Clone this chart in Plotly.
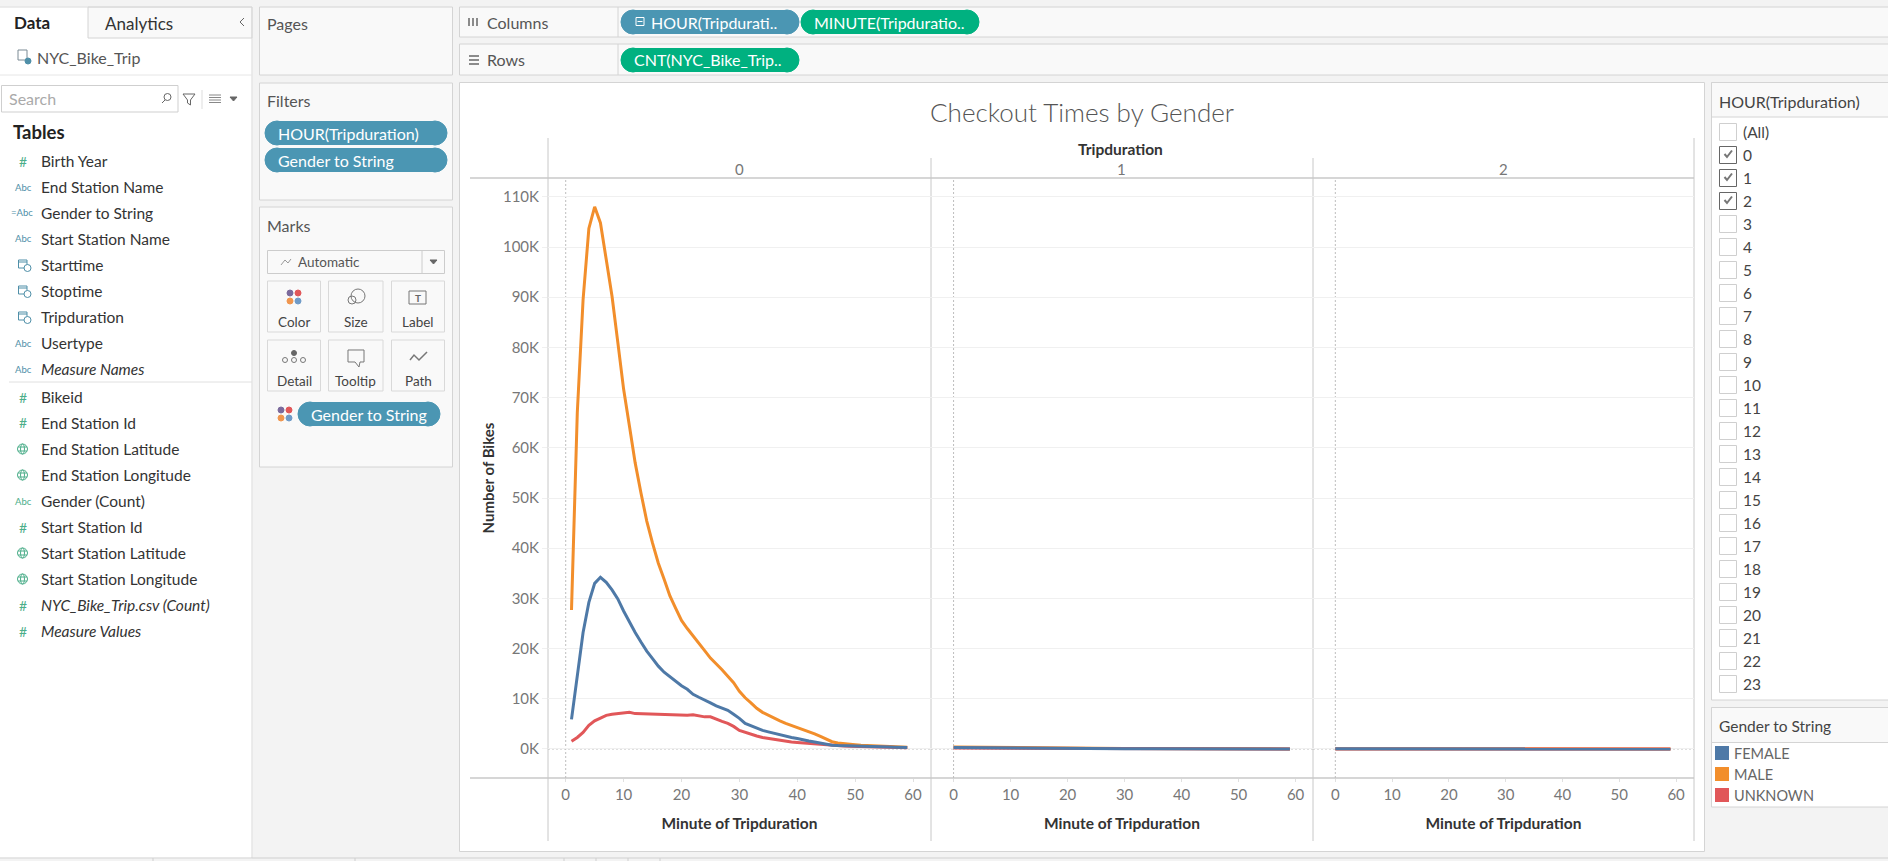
"""Checkout Times by Gender: Tableau worksheet view redrawn with plotly."""

import plotly.graph_objects as go

W, H = 1888, 861
FONT = "Lato"

# values
MINUTES_0 = list(range(1, 60))
FEMALE_0 = [5900, 14500, 23200, 29200, 33000, 34200, 33200, 31700, 29900, 27500,
            25200, 23200, 21300, 19500, 18000, 16500, 15300, 14400, 13500, 12600,
            11900, 10900, 10300, 9800, 9200, 8600, 8100, 7700, 6900, 6100,
            5100, 4600, 4100, 3700, 3400, 3100, 2800, 2500, 2300, 2100,
            1800, 1600, 1400, 1150, 900, 750, 680, 630, 590, 560,
            520, 490, 460, 430, 400, 380, 360, 340, 320]
MALE_0 = [27700, 67000, 89500, 103700, 108000, 104800, 97500, 90200, 81000, 71700,
          64400, 57000, 51000, 45400, 41000, 37000, 33800, 30500, 28000, 25600,
          24000, 22600, 21000, 19600, 18100, 17000, 15800, 14500, 13200, 11500,
          10200, 9200, 8100, 7300, 6700, 6200, 5600, 5100, 4700, 4300,
          3800, 3500, 3000, 2500, 1900, 1450, 1200, 1050, 950, 850,
          750, 680, 620, 570, 520, 480, 440, 400, 360]
UNKNOWN_0 = [1550, 2300, 3300, 4700, 5600, 6100, 6700, 6900, 7050, 7200,
             7300, 7050, 7000, 6900, 6950, 6850, 6900, 6850, 6800, 6750,
             6700, 6800, 6550, 6400, 6400, 5900, 5500, 5100, 4500, 3700,
             3300, 2900, 2600, 2300, 2100, 1900, 1700, 1550, 1400, 1300,
             1200, 1100, 1000, 880, 800, 700, 620, 580, 540, 500,
             470, 440, 410, 380, 350, 330, 310, 290, 270]

MINUTES_12 = [0, 5, 10, 15, 20, 25, 30, 35, 40, 45, 50, 55, 59]
FEMALE_1 = [300, 240, 190, 150, 120, 90, 70, 55, 45, 35, 25, 20, 15]
MALE_1 = [420, 340, 270, 210, 170, 130, 100, 80, 60, 45, 35, 25, 20]
UNKNOWN_1 = [200, 170, 140, 110, 90, 70, 55, 45, 35, 25, 20, 15, 10]
FEMALE_2 = [30, 25, 20, 18, 15, 12, 10, 9, 8, 7, 6, 5, 5]
MALE_2 = [60, 50, 40, 32, 26, 22, 18, 15, 12, 10, 9, 8, 7]
UNKNOWN_2 = [20, 18, 16, 14, 12, 10, 9, 8, 7, 6, 5, 4, 4]

HOUR_LABELS = ["0", "1", "2"]
GENDERS = ["FEMALE", "MALE", "UNKNOWN"]
GENDER_COLORS = {"FEMALE": "#4e79a7", "MALE": "#f28e2b", "UNKNOWN": "#e15759"}

Y_TICKS = [0, 10000, 20000, 30000, 40000, 50000, 60000, 70000, 80000, 90000, 100000, 110000]
Y_LABELS = ["0K", "10K", "20K", "30K", "40K", "50K", "60K", "70K", "80K", "90K", "100K", "110K"]
X_TICKS = [0, 10, 20, 30, 40, 50, 60]

FIELDS_TOP = [("#", "Birth Year"), ("Abc", "End Station Name"), ("=Abc", "Gender to String"),
              ("Abc", "Start Station Name"), ("cal", "Starttime"), ("cal", "Stoptime"),
              ("cal", "Tripduration"), ("Abc", "Usertype"), ("Abc", "<i>Measure Names</i>")]
FIELDS_BOTTOM = [("#", "Bikeid"), ("#", "End Station Id"), ("globe", "End Station Latitude"),
                 ("globe", "End Station Longitude"), ("gAbc", "Gender (Count)"),
                 ("#", "Start Station Id"), ("globe", "Start Station Latitude"),
                 ("globe", "Start Station Longitude"),
                 ("#", "<i>NYC_Bike_Trip.csv (Count)</i>"), ("#", "<i>Measure Values</i>")]
FILTER_ROWS = ["(All)"] + [str(h) for h in range(24)]
FILTER_CHECKED = ["0", "1", "2"]
MARK_BUTTONS = [["Color", "Size", "Label"], ["Detail", "Tooltip", "Path"]]

BORDER = "#d4d4d4"
CARD = "#f9f9f9"
BLUE_PILL = "#4b96b3"
GREEN_PILL = "#00b180"
FIELD_BLUE = "#4f8fa8"
FIELD_GREEN = "#4cae8a"

shapes = []
notes = []


def px(x):
    return x / W


def py(y):
    return 1 - y / H


def box(x0, y0, x1, y1, fill="white", line=BORDER, width=1):
    shapes.append(dict(type="rect", xref="paper", yref="paper", layer="below",
                       x0=px(x0), x1=px(x1), y0=py(y0), y1=py(y1), fillcolor=fill,
                       line=dict(color=line, width=width)))


def seg(x0, y0, x1, y1, color=BORDER, width=1, dash=None):
    shapes.append(dict(type="line", xref="paper", yref="paper", layer="below",
                       x0=px(x0), x1=px(x1), y0=py(y0), y1=py(y1),
                       line=dict(color=color, width=width, dash=dash)))


def dot(cx, cy, r, fill="rgba(0,0,0,0)", line=None, width=1):
    shapes.append(dict(type="circle", xref="paper", yref="paper", layer="below",
                       x0=px(cx - r), x1=px(cx + r), y0=py(cy - r), y1=py(cy + r),
                       fillcolor=fill, line=dict(color=line or fill, width=width)))


def poly(points, color="#777", width=1, fill="rgba(0,0,0,0)", close=False):
    path = "M " + " L ".join(f"{px(x):.5f} {py(y):.5f}" for x, y in points)
    shapes.append(dict(type="path", xref="paper", yref="paper", layer="below",
                       path=path + (" Z" if close else ""), fillcolor=fill,
                       line=dict(color=color, width=width)))


def pill(x0, y0, x1, y1, color):
    # capsule: two circles and a rect
    r = (y1 - y0) / 2
    dot(x0 + r, y0 + r, r, fill=color)
    dot(x1 - r, y0 + r, r, fill=color)
    box(x0 + r, y0, x1 - r, y1, fill=color, line=color, width=0)


def label(x, y, text, size=14, color="#444", anchor="left", angle=0, weight=None):
    font = dict(family=FONT, size=size, color=color)
    if weight:
        font["weight"] = weight
    notes.append(dict(xref="paper", yref="paper", x=px(x), y=py(y), text=text, showarrow=False,
                      xanchor=anchor, yanchor="middle", textangle=angle, font=font,
                      borderpad=0, borderwidth=0))


def dots4(cx, cy):
    dot(cx - 4, cy - 4, 3, fill="#7b6a9c")
    dot(cx + 4, cy - 4, 3, fill="#e15759")
    dot(cx - 4, cy + 4, 3, fill="#f0964e")
    dot(cx + 4, cy + 4, 3, fill="#6f9bc8")


def field_icon(kind, y):
    if kind == "#":
        label(23, y, "#", size=14, color=FIELD_GREEN, anchor="center")
    elif kind == "Abc":
        label(23, y, "Abc", size=9.5, color=FIELD_BLUE, anchor="center")
    elif kind == "gAbc":
        label(23, y, "Abc", size=9.5, color=FIELD_GREEN, anchor="center")
    elif kind == "=Abc":
        label(21.5, y, "=Abc", size=9.5, color=FIELD_BLUE, anchor="center")
    elif kind == "globe":
        dot(22.5, y, 5, line=FIELD_GREEN)
        shapes.append(dict(type="circle", xref="paper", yref="paper", layer="below",
                           x0=px(20.5), x1=px(24.5), y0=py(y - 5), y1=py(y + 5),
                           line=dict(color=FIELD_GREEN, width=1)))
        seg(18, y - 2, 27, y - 2, color=FIELD_GREEN)
        seg(18, y + 2, 27, y + 2, color=FIELD_GREEN)
    else:
        box(18.5, y - 5, 27, y + 3, fill="white", line=FIELD_BLUE)
        seg(18.5, y - 3, 27, y - 3, color=FIELD_BLUE)
        dot(27.5, y + 3, 3.5, fill="white", line=FIELD_BLUE)


# window background and the side panels
box(0, 0, W, H, fill="#f3f3f3", line="#f3f3f3")
box(0, 7, 252, 858, fill="white", line="white")
box(88, 7, 252, 38, fill=CARD, line=BORDER)
seg(0, 7, 252, 7, color="#d9d9d9")
seg(252, 7, 252, 858, color="#d9d9d9")
seg(0, 75, 252, 75, color="#e6e6e6")
seg(0, 858, W, 858, color="#cfcfcf", width=1)
for tab_x in [153, 355, 564, 596, 628, 660]:
    seg(tab_x, 858, tab_x, H, color="#cfcfcf")

label(14, 22, "<b>Data</b>", size=17, color="#222")
label(105, 23, "Analytics", size=17, color="#333")
poly([(244, 18), (240, 22), (244, 26)], color="#666")
box(18, 50, 27, 60, fill="white", line="#7b8a94")
dot(28, 61, 3, fill=FIELD_BLUE)
label(37, 57, "NYC_Bike_Trip", size=16, color="#555")
box(1.5, 85.5, 178, 112, fill="white", line="#cfcfcf")
label(9, 99, "Search", size=16, color="#aaa")
dot(167.5, 97, 3.5, line="#666")
seg(165, 100, 162, 103, color="#666")
poly([(183, 94), (195, 94), (190.5, 100), (190.5, 105), (187.5, 103), (187.5, 100)], color="#666", close=True)
seg(202, 90, 202, 109, color="#ddd")
for row_y in [95, 97.5, 100, 102.5]:
    seg(209, row_y, 221, row_y, color="#888")
poly([(230, 97), (237, 97), (233.5, 101)], color="#666", fill="#666", close=True)
label(13, 132, "<b>Tables</b>", size=18.5, color="#222")

for i, (kind, name) in enumerate(FIELDS_TOP):
    field_icon(kind, 161 + i * 26)
    label(41, 161 + i * 26, name, size=15.5, color="#333")
seg(9, 382, 252, 382, color="#e0e0e0")
for i, (kind, name) in enumerate(FIELDS_BOTTOM):
    field_icon(kind, 397 + i * 26)
    label(41, 397 + i * 26, name, size=15.5, color="#333")

# pages, filters, marks
box(259.5, 7, 452.5, 75, fill=CARD)
label(267, 24, "Pages", size=16, color="#555")
box(259.5, 83, 452.5, 200, fill=CARD)
label(267, 100, "Filters", size=16, color="#555")
pill(265, 121, 447, 145, BLUE_PILL)
label(278, 133, "HOUR(Tripduration)", color="white", size=16)
pill(265, 148, 447, 172, BLUE_PILL)
label(278, 160, "Gender to String", color="white", size=16)
box(259.5, 207, 452.5, 467, fill=CARD)
label(267, 225, "Marks", size=16, color="#555")
box(267.5, 250.5, 444.5, 273.5, fill=CARD, line="#cccccc")
seg(422, 251, 422, 273, color="#cccccc")
poly([(430, 260), (437, 260), (433.5, 264)], color="#666", fill="#666", close=True)
poly([(281, 265), (285, 260), (288, 263), (291, 259)], color="#999")
label(298, 262, "Automatic", size=13.5, color="#555")
for r, names in enumerate(MARK_BUTTONS):
    y0 = 281 + r * 59
    for c, name in enumerate(names):
        x0, x1 = [(267.5, 320.5), (328.5, 383), (391.5, 444.5)][c]
        box(x0, y0, x1, y0 + 51, fill=CARD, line="#d9d9d9")
        label((x0 + x1) / 2, y0 + 41, name, size=13.5, color="#444", anchor="center")
dots4(294, 297)
dot(352, 300, 4, line="#777")
dot(358, 296, 7, line="#777")
box(409, 291, 426, 304, fill=CARD, line="#777")
label(418, 298, "<b>T</b>", size=10, color="#666", anchor="center")
dot(294, 353, 2.5, fill="#666")
for dx in [285, 294, 303]:
    dot(dx, 360, 2.5, line="#777")
poly([(348, 350), (364, 350), (364, 362), (360, 362), (359, 367), (355, 362), (348, 362)], color="#777", close=True)
poly([(410, 360), (414, 355), (419, 360), (427, 352)], color="#777", width=1.5)
dots4(285, 414)
pill(298, 402, 440, 426, BLUE_PILL)
label(311, 414, "Gender to String", color="white", size=16)

# columns and rows shelves
box(459.5, 7, W + 2, 37, fill=CARD)
box(459.5, 44, W + 2, 75, fill=CARD)
seg(618, 7, 618, 37)
seg(618, 44, 618, 75)
for bar_x in [469, 473, 477]:
    seg(bar_x, 18, bar_x, 26, color="#666", width=1.5)
for row_y in [56, 60, 64]:
    seg(469, row_y, 479, row_y, color="#666", width=1.5)
label(487, 22, "Columns", size=16, color="#555")
label(487, 60, "Rows", size=16, color="#555")
pill(621, 10, 799, 34, BLUE_PILL)
box(636, 17.5, 644, 25.5, fill=BLUE_PILL, line="white")
seg(637.5, 21.5, 642.5, 21.5, color="white")
label(651, 22, "HOUR(Tripdurati..", color="white", size=16)
pill(801, 10, 979, 34, GREEN_PILL)
label(814, 22, "MINUTE(Tripduratio..", color="white", size=16)
pill(621, 48, 799, 72, GREEN_PILL)
label(634, 60, "CNT(NYC_Bike_Trip..", color="white", size=16)

# worksheet card and pane frame
box(459.5, 82.5, 1704.5, 851.5, fill="white")
seg(470, 178, 1694, 178, color="#c8c8c8", width=1.5)
seg(470, 778, 1694, 778, color="#c8c8c8", width=1.5)
seg(548, 138, 548, 841, color="#c8c8c8")
seg(931, 158, 931, 841, color="#c8c8c8")
seg(1313, 158, 1313, 841, color="#c8c8c8")
seg(1694, 138, 1694, 841, color="#c8c8c8")
label(1120.5, 149, "<b>Tripduration</b>", size=15.5, color="#333", anchor="center")
for hour, header_x in zip(HOUR_LABELS, [739, 1121, 1503]):
    label(header_x, 168.5, hour, size=15, color="#777", anchor="center")

# hour filter card
box(1711.5, 82.5, W + 2, 700, fill="white")
box(1711.5, 82.5, W + 2, 117, fill=CARD)
label(1719, 101, "HOUR(Tripduration)", size=16, color="#444")
for i, name in enumerate(FILTER_ROWS):
    row_y = 132 + i * 23
    on = name in FILTER_CHECKED
    box(1719.5, row_y - 8.5, 1736.5, row_y + 8.5, fill="white", line="#666" if on else "#cfcfcf")
    if on:
        poly([(1724.5, row_y - 1), (1727, row_y + 2), (1732, row_y - 4.5)], color="#777", width=2)
    label(1743, row_y, name, size=15.5, color="#444")

# colour legend
box(1711.5, 707.5, W + 2, 807, fill="white")
box(1711.5, 707.5, W + 2, 742.5, fill=CARD)
label(1719, 726, "Gender to String", size=15.5, color="#444")
for i, gender in enumerate(GENDERS):
    box(1715, 746 + i * 21, 1729, 760 + i * 21, fill=GENDER_COLORS[gender], line=GENDER_COLORS[gender], width=0)
    label(1734, 753.5 + i * 21, gender, size=14.5, color="#666")

label(1082, 112, "Checkout Times by Gender", size=26, color="#555", anchor="center", weight=300)

fig = go.Figure()

PANES = [
    ("", MINUTES_0, FEMALE_0, MALE_0, UNKNOWN_0),
    ("2", MINUTES_12, FEMALE_1, MALE_1, UNKNOWN_1),
    ("3", MINUTES_12, FEMALE_2, MALE_2, UNKNOWN_2),
]
for suffix, minutes, female, male, unknown in PANES:
    series = {"MALE": male, "UNKNOWN": unknown, "FEMALE": female}
    for gender, values in series.items():
        fig.add_trace(
            go.Scatter(
                x=minutes,
                y=values,
                mode="lines",
                name=gender,
                xaxis="x" + suffix,
                yaxis="y" + suffix,
                showlegend=False,
                line=dict(color=GENDER_COLORS[gender], width=3),
            )
        )

x_common = dict(
    tickvals=X_TICKS,
    showgrid=False,
    zeroline=False,
    showline=False,
    ticks="outside",
    ticklen=3,
    tickcolor="#e0e0e0",
    tickfont=dict(family=FONT, size=15, color="#777"),
    title=dict(
        text="<b>Minute of Tripduration</b>",
        font=dict(family=FONT, size=15.5, color="#333"),
        standoff=16,
    ),
)
y_common = dict(
    range=[-5780, 113750],
    tickvals=Y_TICKS,
    ticktext=Y_LABELS,
    showgrid=True,
    gridcolor="#f0f0f0",
    gridwidth=1,
    zeroline=False,
    showline=False,
    ticks="outside",
    ticklen=5,
    tickcolor="#f0f0f0",
    tickfont=dict(family=FONT, size=15, color="#777"),
)

fig.update_layout(
    width=W,
    height=H,
    margin=dict(l=0, r=0, t=0, b=0),
    paper_bgcolor="#f3f3f3",
    plot_bgcolor="rgba(0,0,0,0)",
    showlegend=False,
    xaxis=dict(domain=[px(548), px(931)], range=[-3.06, 63.1], anchor="y", **x_common),
    xaxis2=dict(domain=[px(931), px(1313)], range=[-3.96, 63.05], anchor="y2", **x_common),
    xaxis3=dict(domain=[px(1313), px(1694)], range=[-3.93, 63.15], anchor="y3", **x_common),
    yaxis=dict(
        domain=[py(778), py(178)],
        anchor="x",
        title=dict(
            text="<b>Number of Bikes</b>",
            font=dict(family=FONT, size=15, color="#333"),
            standoff=4,
        ),
        **y_common,
    ),
    yaxis2=dict(domain=[py(778), py(178)], anchor="x2", showticklabels=False, **y_common),
    yaxis3=dict(domain=[py(778), py(178)], anchor="x3", showticklabels=False, **y_common),
    shapes=shapes,
    annotations=notes,
)

# dotted zero reference lines in every pane
for suffix in ["", "2", "3"]:
    fig.add_shape(type="line", xref="x" + suffix, yref=f"y{suffix} domain", x0=0, x1=0, y0=0, y1=1,
                  layer="below", line=dict(color="#bdbdbd", width=1, dash="2px,2px"))
    fig.add_shape(type="line", xref=f"x{suffix} domain", yref="y" + suffix, x0=0, x1=1, y0=0, y1=0,
                  layer="below", line=dict(color="#bdbdbd", width=1, dash="2px,2px"))

fig.write_html(
    "out.html",
    config=dict(displayModeBar=False),
    post_script="document.body.style.margin='0';document.body.style.overflow='hidden';",
)
